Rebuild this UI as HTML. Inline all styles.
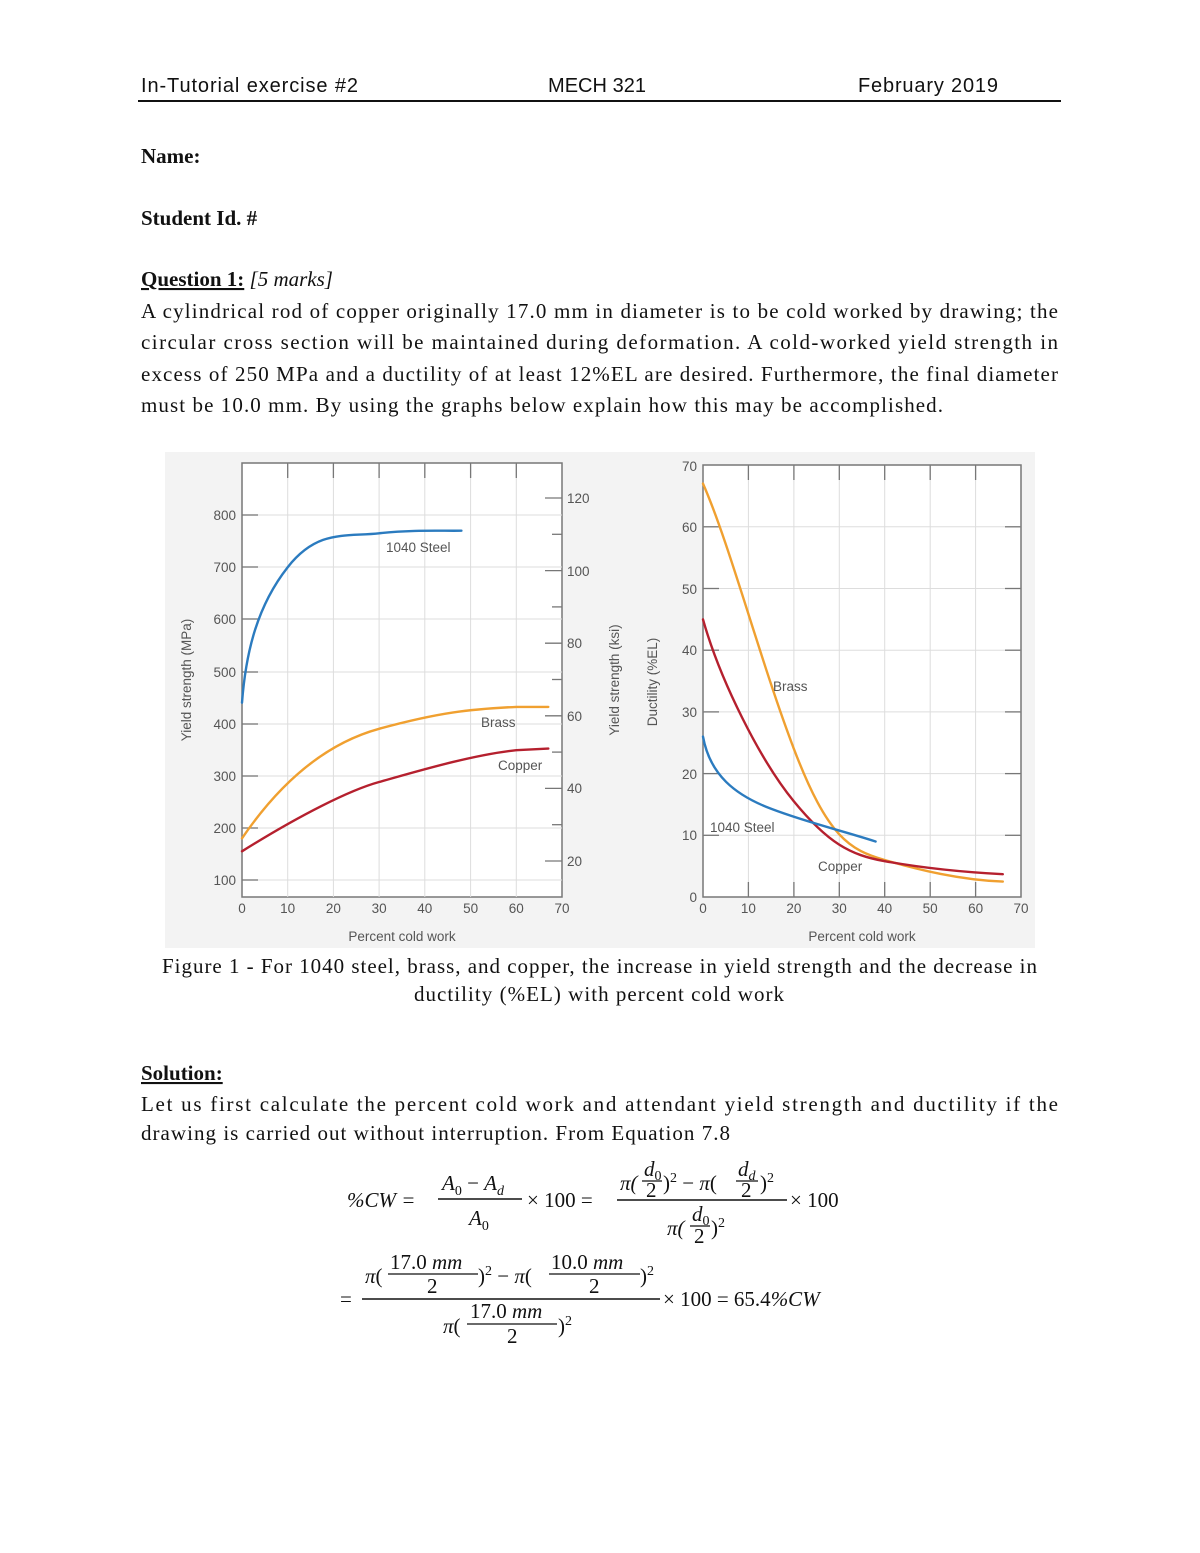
<!DOCTYPE html>
<html><head><meta charset="utf-8"><style>
html,body{margin:0;padding:0;background:#fff}
svg{display:block}
.t{font-family:"Liberation Serif",serif;font-size:21px;fill:#111}
.h{font-family:"Liberation Sans",sans-serif;font-size:20px;fill:#111}
.a{font-family:"Liberation Sans",sans-serif;font-size:13.5px;fill:#555}
.m{font-family:"Liberation Serif",serif;font-size:21px;fill:#111;font-style:italic}
.n{font-family:"Liberation Serif",serif;font-size:21px;fill:#111}
.s{font-family:"Liberation Serif",serif;font-size:14px;fill:#111}
</style></head><body>
<svg width="1200" height="1553" viewBox="0 0 1200 1553" xmlns="http://www.w3.org/2000/svg">
<text class="h" x="141" y="92" textLength="217" lengthAdjust="spacing">In-Tutorial exercise #2</text>
<text class="h" x="548" y="92" textLength="98" lengthAdjust="spacing">MECH 321</text>
<text class="h" x="858" y="92" textLength="140" lengthAdjust="spacing">February 2019</text>
<line x1="138" y1="101" x2="1061" y2="101" stroke="#111" stroke-width="2"/>
<text class="t" x="141" y="163" font-weight="bold">Name:</text>
<text class="t" x="141" y="225" font-weight="bold">Student Id. #</text>
<text class="t" x="141" y="286"><tspan font-weight="bold" text-decoration="underline">Question 1:</tspan><tspan font-style="italic"> [5 marks]</tspan></text>
<text class="t" x="141" y="318" textLength="917" lengthAdjust="spacing">A cylindrical rod of copper originally 17.0 mm in diameter is to be cold worked by drawing; the</text>
<text class="t" x="141" y="349" textLength="917" lengthAdjust="spacing">circular cross section will be maintained during deformation. A cold-worked yield strength in</text>
<text class="t" x="141" y="381" textLength="917" lengthAdjust="spacing">excess of 250 MPa and a ductility of at least 12%EL are desired. Furthermore, the final diameter</text>
<text class="t" x="141" y="412" textLength="802" lengthAdjust="spacing">must be 10.0 mm. By using the graphs below explain how this may be accomplished.</text>

<rect x="165" y="452" width="870" height="496" fill="#f3f3f3"/>
<!-- left chart -->
<rect x="242" y="463" width="320" height="434" fill="#fff" stroke="#777" stroke-width="1.5"/>
<g stroke="#ddd" stroke-width="1">
<line x1="287.7" y1="463" x2="287.7" y2="897"/><line x1="333.4" y1="463" x2="333.4" y2="897"/><line x1="379.1" y1="463" x2="379.1" y2="897"/><line x1="424.8" y1="463" x2="424.8" y2="897"/><line x1="470.6" y1="463" x2="470.6" y2="897"/><line x1="516.3" y1="463" x2="516.3" y2="897"/>
<line x1="242" y1="880" x2="562" y2="880"/><line x1="242" y1="828" x2="562" y2="828"/><line x1="242" y1="776" x2="562" y2="776"/><line x1="242" y1="724" x2="562" y2="724"/><line x1="242" y1="672" x2="562" y2="672"/><line x1="242" y1="619" x2="562" y2="619"/><line x1="242" y1="567" x2="562" y2="567"/><line x1="242" y1="515" x2="562" y2="515"/>
</g>
<g stroke="#777" stroke-width="1.3">
<line x1="242" y1="880" x2="258" y2="880"/><line x1="242" y1="828" x2="258" y2="828"/><line x1="242" y1="776" x2="258" y2="776"/><line x1="242" y1="724" x2="258" y2="724"/><line x1="242" y1="672" x2="258" y2="672"/><line x1="242" y1="619" x2="258" y2="619"/><line x1="242" y1="567" x2="258" y2="567"/><line x1="242" y1="515" x2="258" y2="515"/>
<line x1="287.7" y1="463" x2="287.7" y2="478"/><line x1="333.4" y1="463" x2="333.4" y2="478"/><line x1="379.1" y1="463" x2="379.1" y2="478"/><line x1="424.8" y1="463" x2="424.8" y2="478"/><line x1="470.6" y1="463" x2="470.6" y2="478"/><line x1="516.3" y1="463" x2="516.3" y2="478"/>
<line x1="545" y1="498" x2="562" y2="498"/><line x1="545" y1="570.6" x2="562" y2="570.6"/><line x1="545" y1="643.2" x2="562" y2="643.2"/><line x1="545" y1="715.8" x2="562" y2="715.8"/><line x1="545" y1="788.4" x2="562" y2="788.4"/><line x1="545" y1="861" x2="562" y2="861"/>
<line x1="552" y1="534.3" x2="562" y2="534.3"/><line x1="552" y1="606.9" x2="562" y2="606.9"/><line x1="552" y1="679.5" x2="562" y2="679.5"/><line x1="552" y1="752.1" x2="562" y2="752.1"/><line x1="552" y1="824.7" x2="562" y2="824.7"/>
</g>
<g class="a" text-anchor="end">
<text x="236" y="885">100</text><text x="236" y="833">200</text><text x="236" y="781">300</text><text x="236" y="729">400</text><text x="236" y="677">500</text><text x="236" y="624">600</text><text x="236" y="572">700</text><text x="236" y="520">800</text>
</g>
<g class="a">
<text x="567" y="503">120</text><text x="567" y="576">100</text><text x="567" y="648">80</text><text x="567" y="721">60</text><text x="567" y="793">40</text><text x="567" y="866">20</text>
</g>
<g class="a" text-anchor="middle">
<text x="242" y="913">0</text><text x="287.7" y="913">10</text><text x="333.4" y="913">20</text><text x="379.1" y="913">30</text><text x="424.8" y="913">40</text><text x="470.6" y="913">50</text><text x="516.3" y="913">60</text><text x="562" y="913">70</text>
<text x="402" y="941">Percent cold work</text>
<text transform="translate(191,680) rotate(-90)">Yield strength (MPa)</text>
<text transform="translate(619,680) rotate(-90)">Yield strength (ksi)</text>
</g>
<g fill="none" stroke-width="2.4" stroke-linejoin="round" stroke-linecap="round">
<path stroke="#2b7bbf" d="M242,702.7 C246,650 258,605 287.7,567.2 S345,537 379.1,533.3 S440,531 461.4,530.7"/>
<path stroke="#f0a030" d="M242,838.3 C275,790 320,745 379.1,728.8 S470,709 516.3,706.9 L548.3,706.9"/>
<path stroke="#b5202e" d="M242,851.3 C300,815 350,790 379.1,782.0 S470,755 516.3,750.2 L548.3,748.6"/>
</g>
<g class="a" fill="#444"><text x="386" y="552">1040 Steel</text><text x="481" y="727">Brass</text><text x="498" y="770">Copper</text></g>

<!-- right chart -->
<rect x="703" y="465" width="318" height="432" fill="#fff" stroke="#777" stroke-width="1.5"/>
<g stroke="#ddd" stroke-width="1">
<line x1="748.4" y1="465" x2="748.4" y2="897"/><line x1="793.9" y1="465" x2="793.9" y2="897"/><line x1="839.3" y1="465" x2="839.3" y2="897"/><line x1="884.7" y1="465" x2="884.7" y2="897"/><line x1="930.2" y1="465" x2="930.2" y2="897"/><line x1="975.6" y1="465" x2="975.6" y2="897"/>
<line x1="703" y1="835.3" x2="1021" y2="835.3"/><line x1="703" y1="773.6" x2="1021" y2="773.6"/><line x1="703" y1="711.9" x2="1021" y2="711.9"/><line x1="703" y1="650.2" x2="1021" y2="650.2"/><line x1="703" y1="588.5" x2="1021" y2="588.5"/><line x1="703" y1="526.8" x2="1021" y2="526.8"/>
</g>
<g stroke="#777" stroke-width="1.3">
<line x1="703" y1="835.3" x2="719" y2="835.3"/><line x1="703" y1="773.6" x2="719" y2="773.6"/><line x1="703" y1="711.9" x2="719" y2="711.9"/><line x1="703" y1="650.2" x2="719" y2="650.2"/><line x1="703" y1="588.5" x2="719" y2="588.5"/><line x1="703" y1="526.8" x2="719" y2="526.8"/>
<line x1="1005" y1="835.3" x2="1021" y2="835.3"/><line x1="1005" y1="773.6" x2="1021" y2="773.6"/><line x1="1005" y1="711.9" x2="1021" y2="711.9"/><line x1="1005" y1="650.2" x2="1021" y2="650.2"/><line x1="1005" y1="588.5" x2="1021" y2="588.5"/><line x1="1005" y1="526.8" x2="1021" y2="526.8"/>
<line x1="748.4" y1="465" x2="748.4" y2="480"/><line x1="793.9" y1="465" x2="793.9" y2="480"/><line x1="839.3" y1="465" x2="839.3" y2="480"/><line x1="884.7" y1="465" x2="884.7" y2="480"/><line x1="930.2" y1="465" x2="930.2" y2="480"/><line x1="975.6" y1="465" x2="975.6" y2="480"/>
<line x1="748.4" y1="882" x2="748.4" y2="897"/><line x1="793.9" y1="882" x2="793.9" y2="897"/><line x1="839.3" y1="882" x2="839.3" y2="897"/><line x1="884.7" y1="882" x2="884.7" y2="897"/><line x1="930.2" y1="882" x2="930.2" y2="897"/><line x1="975.6" y1="882" x2="975.6" y2="897"/>
</g>
<g class="a" text-anchor="end">
<text x="697" y="902">0</text><text x="697" y="840">10</text><text x="697" y="779">20</text><text x="697" y="717">30</text><text x="697" y="655">40</text><text x="697" y="594">50</text><text x="697" y="532">60</text><text x="697" y="471">70</text>
</g>
<g class="a" text-anchor="middle">
<text x="703" y="913">0</text><text x="748.4" y="913">10</text><text x="793.9" y="913">20</text><text x="839.3" y="913">30</text><text x="884.7" y="913">40</text><text x="930.2" y="913">50</text><text x="975.6" y="913">60</text><text x="1021" y="913">70</text>
<text x="862" y="941">Percent cold work</text>
<text transform="translate(657,682) rotate(-90)">Ductility (%EL)</text>
</g>
<g fill="none" stroke-width="2.4" stroke-linejoin="round" stroke-linecap="round">
<path stroke="#f0a030" d="M703,483.6 C730,545 760,660 793.9,748.9 S850,850 884.7,860 S960,880 1002.8,881.6"/>
<path stroke="#b5202e" d="M703,619.4 C720,680 760,760 793.9,801.4 S850,855 884.7,861.2 S960,872 1002.8,874.2"/>
<path stroke="#2b7bbf" d="M703,736.6 C710,775 735,795 771.1,808.8 S840,830 875.6,841.5"/>
</g>
<g class="a" fill="#444"><text x="773" y="691">Brass</text><text x="710" y="832">1040 Steel</text><text x="818" y="871">Copper</text></g>

<text class="t" x="162" y="973" textLength="875" lengthAdjust="spacing">Figure 1 - For 1040 steel, brass, and copper, the increase in yield strength and the decrease in</text>
<text class="t" x="414" y="1001" textLength="370" lengthAdjust="spacing">ductility (%EL) with percent cold work</text>

<text class="t" x="141" y="1080" font-weight="bold" text-decoration="underline">Solution:</text>
<text class="t" x="141" y="1111" textLength="917" lengthAdjust="spacing">Let us first calculate the percent cold work and attendant yield strength and ductility if the</text>
<text class="t" x="141" y="1140" textLength="589" lengthAdjust="spacing">drawing is carried out without interruption. From Equation 7.8</text>

<!-- equation 1 -->
<text class="m" x="347" y="1207">%CW =</text>
<text class="m" x="442" y="1190">A<tspan class="s" dy="5" font-style="normal">0</tspan><tspan dy="-5" font-style="normal"> − </tspan>A<tspan class="s" dy="5">d</tspan></text>
<line x1="438" y1="1199" x2="522" y2="1199" stroke="#111" stroke-width="1.5"/>
<text class="m" x="469" y="1225">A<tspan class="s" dy="5" font-style="normal">0</tspan></text>
<text class="n" x="527" y="1207">× 100 =</text>
<!-- big numerator -->
<text class="m" x="620" y="1190">π(</text>
<text class="m" x="644" y="1176">d<tspan class="s" dy="4" font-style="normal">0</tspan></text>
<line x1="642" y1="1181" x2="662" y2="1181" stroke="#111" stroke-width="1.2"/>
<text class="n" x="646" y="1197" font-size="19">2</text>
<text class="n" x="663" y="1190">)<tspan class="s" dy="-8">2</tspan><tspan dy="8"> − </tspan><tspan font-style="italic">π</tspan>(</text>
<text class="m" x="738" y="1176">d<tspan class="s" dy="4">d</tspan></text>
<line x1="736" y1="1181" x2="758" y2="1181" stroke="#111" stroke-width="1.2"/>
<text class="n" x="741" y="1197" font-size="19">2</text>
<text class="n" x="760" y="1190">)<tspan class="s" dy="-8">2</tspan></text>
<line x1="617" y1="1200" x2="787" y2="1200" stroke="#111" stroke-width="1.5"/>
<text class="n" x="790" y="1207">× 100</text>
<!-- big denominator -->
<text class="m" x="667" y="1235">π(</text>
<text class="m" x="692" y="1221">d<tspan class="s" dy="4" font-style="normal">0</tspan></text>
<line x1="690" y1="1226" x2="710" y2="1226" stroke="#111" stroke-width="1.2"/>
<text class="n" x="694" y="1243" font-size="19">2</text>
<text class="n" x="711" y="1235">)<tspan class="s" dy="-8">2</tspan></text>

<!-- equation 2 -->
<text class="n" x="340" y="1306">=</text>
<text class="m" x="365" y="1283">π<tspan font-style="normal">(</tspan></text>
<text class="n" x="390" y="1269">17.0 <tspan font-style="italic">mm</tspan></text>
<line x1="388" y1="1274" x2="478" y2="1274" stroke="#111" stroke-width="1.2"/>
<text class="n" x="427" y="1293" font-size="19">2</text>
<text class="n" x="478" y="1283">)<tspan class="s" dy="-8">2</tspan><tspan dy="8"> − </tspan><tspan font-style="italic">π</tspan>(</text>
<text class="n" x="551" y="1269">10.0 <tspan font-style="italic">mm</tspan></text>
<line x1="549" y1="1274" x2="640" y2="1274" stroke="#111" stroke-width="1.2"/>
<text class="n" x="589" y="1293" font-size="19">2</text>
<text class="n" x="640" y="1283">)<tspan class="s" dy="-8">2</tspan></text>
<line x1="362" y1="1299" x2="660" y2="1299" stroke="#111" stroke-width="1.5"/>
<text class="n" x="663" y="1306">× 100 = 65.4<tspan class="m">%CW</tspan></text>
<text class="m" x="443" y="1333">π<tspan font-style="normal">(</tspan></text>
<text class="n" x="470" y="1318">17.0 <tspan font-style="italic">mm</tspan></text>
<line x1="467" y1="1324" x2="557" y2="1324" stroke="#111" stroke-width="1.2"/>
<text class="n" x="507" y="1343" font-size="19">2</text>
<text class="n" x="558" y="1333">)<tspan class="s" dy="-8">2</tspan></text>
</svg>
</body></html>
